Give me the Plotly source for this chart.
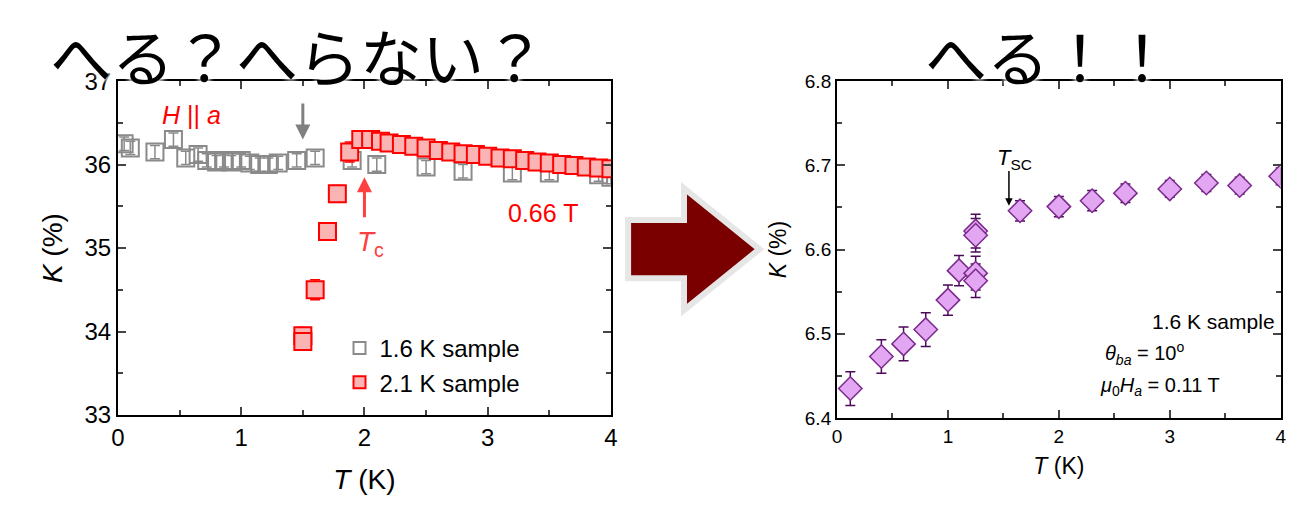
import plotly.graph_objects as go

# Left panel data
gray_T = [0.05, 0.1, 0.3, 0.45, 0.55, 0.65, 0.72, 0.8, 0.86, 0.92, 1.0, 1.07, 1.15, 1.22, 1.3, 1.45, 1.6, 1.9, 2.1, 2.5, 2.8, 3.2, 3.5, 3.9, 4.0]
gray_K = [36.25, 36.2, 36.15, 36.3, 36.08, 36.12, 36.05, 36.03, 36.05, 36.03, 36.05, 36.02, 36.0, 36.0, 36.02, 36.05, 36.08, 36.05, 36.0, 35.97, 35.92, 35.9, 35.9, 35.88, 35.85]
gray_err = [0.08] * len(gray_T)
red_T = [1.5, 1.5, 1.6, 1.7, 1.78, 1.88, 1.97, 2.05, 2.13, 2.2, 2.3, 2.4, 2.5, 2.6, 2.7, 2.8, 2.9, 3.0, 3.1, 3.2, 3.3, 3.4, 3.5, 3.6, 3.7, 3.8, 3.9, 4.0]
red_K = [33.95, 33.88, 34.5, 35.2, 35.65, 36.15, 36.3, 36.3, 36.28, 36.26, 36.24, 36.22, 36.2, 36.17, 36.15, 36.13, 36.12, 36.1, 36.08, 36.07, 36.05, 36.03, 36.02, 36.0, 35.99, 35.97, 35.96, 35.95]
red_err = [0.1, 0.1, 0.12, 0.1, 0.1, 0.12] + [0.05] * 22

# Right panel data
r_T = [0.12, 0.4, 0.6, 0.8, 1.0, 1.1, 1.25, 1.25, 1.25, 1.25, 1.65, 2.0, 2.3, 2.6, 3.0, 3.33, 3.63, 4.0]
r_K = [6.435, 6.473, 6.488, 6.505, 6.54, 6.575, 6.622, 6.617, 6.572, 6.563, 6.646, 6.651, 6.658, 6.667, 6.672, 6.679, 6.676, 6.687]
r_err = [0.02, 0.02, 0.02, 0.02, 0.018, 0.018, 0.02, 0.02, 0.02, 0.02, 0.012, 0.012, 0.012, 0.011, 0.01, 0.01, 0.01, 0.01]

fig = go.Figure()
fig.add_trace(go.Scatter(x=gray_T, y=gray_K, mode="markers", name="1.6 K sample",
    error_y=dict(type="data", array=gray_err, color="#8a8a8a", thickness=1.5, width=5),
    marker=dict(symbol="square-open", size=17, color="#8a8a8a", line=dict(width=2)),
    xaxis="x", yaxis="y"))
fig.add_trace(go.Scatter(x=red_T, y=red_K, mode="markers", name="2.1 K sample",
    error_y=dict(type="data", array=red_err, color="#ff0000", thickness=1.5, width=5),
    marker=dict(symbol="square", size=17, color="rgba(250,180,180,1)", line=dict(width=2, color="#ff0000")),
    xaxis="x", yaxis="y"))
fig.add_trace(go.Scatter(x=r_T, y=r_K, mode="markers", showlegend=False,
    error_y=dict(type="data", array=r_err, color="#4b0a5a", thickness=1.5, width=5),
    marker=dict(symbol="diamond", size=18, color="#e2a6f2", line=dict(width=1.5, color="#7a2a8a")),
    xaxis="x2", yaxis="y2"))

ax = dict(showline=True, linecolor="black", linewidth=2, mirror="ticks", ticks="inside",
          ticklen=8, tickwidth=2, showgrid=False, zeroline=False, automargin=False)
fig.update_layout(
    width=1300, height=530, margin=dict(l=0, r=0, t=0, b=0, autoexpand=False),
    paper_bgcolor="white", plot_bgcolor="white",
    font=dict(family="Liberation Sans, Arial", color="black"),
    xaxis=dict(ax, domain=[0.0846, 0.4638], range=[0, 4], dtick=1, tickfont=dict(size=24),
               minor=dict(dtick=0.5, ticks="inside", ticklen=5, tickwidth=2),
               title=dict(text="<i>T</i> (K)", font=dict(size=28), standoff=20)),
    yaxis=dict(ax, domain=[0.232, 0.862], range=[33, 37], dtick=1, tickfont=dict(size=24),
               minor=dict(dtick=0.5, ticks="inside", ticklen=5, tickwidth=2),
               title=dict(text="<i>K</i> (%)", font=dict(size=28), standoff=14)),
    xaxis2=dict(ax, domain=[0.6377, 0.979], range=[0, 4], dtick=1, anchor="y2", tickfont=dict(size=19),
                minor=dict(dtick=0.5, ticks="inside", ticklen=5, tickwidth=2),
                title=dict(text="<i>T</i> (K)", font=dict(size=23), standoff=12)),
    yaxis2=dict(ax, domain=[0.2264, 0.862], range=[6.4, 6.8], dtick=0.1, anchor="x2", tickformat=".1f",
                tickfont=dict(size=19), minor=dict(dtick=0.05, ticks="inside", ticklen=5, tickwidth=2),
                title=dict(text="<i>K</i> (%)", font=dict(size=23), standoff=12)),
    legend=dict(x=0.255, y=0.40, xanchor="left", yanchor="top", font=dict(size=24),
                bgcolor="rgba(0,0,0,0)", itemsizing="constant"),
)

# Left annotations
fig.add_annotation(x=0.6, y=36.6, xref="x", yref="y", text="<i>H</i> || <i>a</i>", showarrow=False,
                   font=dict(size=25, color="#ff0000"))
fig.add_annotation(x=1.5, y=36.3, ax=1.5, ay=36.75, xref="x", yref="y", axref="x", ayref="y",
                   text="", showarrow=True, arrowhead=2, arrowsize=1, arrowwidth=3, arrowcolor="#808080")
fig.add_annotation(x=2.0, y=35.85, ax=2.0, ay=35.35, xref="x", yref="y", axref="x", ayref="y",
                   text="", showarrow=True, arrowhead=2, arrowsize=1, arrowwidth=3, arrowcolor="#ff4040")
fig.add_annotation(x=2.05, y=35.05, xref="x", yref="y", text="<i>T</i><sub>c</sub>", showarrow=False,
                   font=dict(size=28, color="#ff4040"))
fig.add_annotation(x=3.45, y=35.42, xref="x", yref="y", text="0.66 T", showarrow=False,
                   font=dict(size=25, color="#ff0000"))

# Right annotations
fig.add_annotation(x=1.6, y=6.707, xref="x2", yref="y2", text="<i>T</i><sub>SC</sub>", showarrow=False,
                   font=dict(size=22))
fig.add_annotation(x=1.55, y=6.652, ax=1.55, ay=6.695, xref="x2", yref="y2", axref="x2", ayref="y2",
                   text="", showarrow=True, arrowhead=2, arrowsize=1, arrowwidth=1.5, arrowcolor="black")
fig.add_annotation(x=3.97, y=6.515, xref="x2", yref="y2", xanchor="right", showarrow=False,
                   text="1.6 K sample", font=dict(size=21))
fig.add_annotation(x=2.4, y=6.477, xref="x2", yref="y2", xanchor="left", showarrow=False,
                   text="<i>θ<sub>ba</sub></i> = 10<sup>o</sup>", font=dict(size=20))
fig.add_annotation(x=2.35, y=6.437, xref="x2", yref="y2", xanchor="left", showarrow=False,
                   text="<i>μ</i><sub>0</sub><i>H<sub>a</sub></i> = 0.11 T", font=dict(size=20))

# Big arrow between panels
fig.add_shape(type="path", xref="paper", yref="paper",
              path="M 0.477 0.60 L 0.520 0.60 L 0.520 0.66 L 0.578 0.545 L 0.520 0.43 L 0.520 0.49 L 0.477 0.49 Z",
              fillcolor="#7a0000", line=dict(color="#e6e6e6", width=6), layer="above")

# Titles
shadow = "0 0 6px white, 0 0 6px white, 0 0 6px white"
fig.add_annotation(x=40/1300, y=1.0, xref="paper", yref="paper", xanchor="left", yanchor="top",
                   text="へる？へらない？", showarrow=False,
                   font=dict(size=62, family="Noto Sans CJK JP", color="black", shadow=shadow))
fig.add_annotation(x=915/1300, y=1.0, xref="paper", yref="paper", xanchor="left", yanchor="top",
                   text="へる！！", showarrow=False,
                   font=dict(size=62, family="Noto Sans CJK JP", color="black", shadow=shadow))

fig.write_html("out.html")
